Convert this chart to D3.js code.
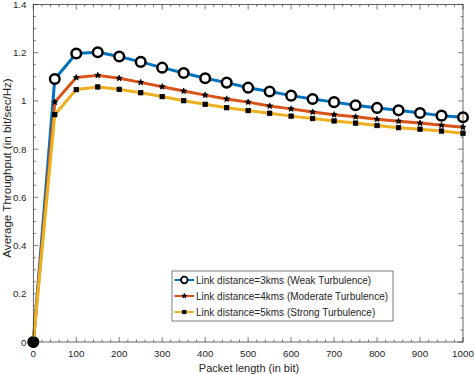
<!DOCTYPE html>
<html>
  <head>
    <meta charset="utf-8">
    <title>Average Throughput</title>
    <script src="https://cdnjs.cloudflare.com/ajax/libs/d3/7.8.5/d3.min.js"></script>
    <style>
      body { margin: 0; background: #fff; }
      text { font-family: "Liberation Sans", Arial, sans-serif; fill: #262626; }
    </style>
  </head>
  <body>
    <div id="chart"></div>
    <script type="text/javascript">
      // packet lengths (bit)
      var packetLength = [0, 50, 100, 150, 200, 250, 300, 350, 400, 450, 500,
                          550, 600, 650, 700, 750, 800, 850, 900, 950, 1000];

      var weak = [0, 1.091, 1.197, 1.202, 1.184, 1.162, 1.138, 1.116, 1.094, 1.076, 1.055,
                  1.039, 1.022, 1.008, 0.995, 0.982, 0.971, 0.961, 0.950, 0.939, 0.932];
      var moderate = [0, 0.995, 1.097, 1.106, 1.094, 1.077, 1.059, 1.041, 1.024, 1.008, 0.995,
                      0.979, 0.967, 0.954, 0.943, 0.934, 0.924, 0.916, 0.908, 0.899, 0.891];
      var strong = [0, 0.943, 1.047, 1.058, 1.048, 1.034, 1.018, 1.001, 0.986, 0.972, 0.960,
                    0.949, 0.937, 0.927, 0.917, 0.908, 0.898, 0.889, 0.883, 0.875, 0.866];

      var seriesNames = ["Link distance=3kms (Weak Turbulence)",
                         "Link distance=4kms (Moderate Turbulence)",
                         "Link distance=5kms (Strong Turbulence)"];
      var xTicks = [0, 100, 200, 300, 400, 500, 600, 700, 800, 900, 1000];
      var yTicks = [0, 0.2, 0.4, 0.6, 0.8, 1, 1.2, 1.4];

      var w = 474, h = 374;
      var pLeft = 33.3, pRight = 463, pTop = 4.5, pBottom = 342;

      var x = d3.scaleLinear().domain([0, 1000]).range([pLeft, pRight]);
      var y = d3.scaleLinear().domain([0, 1.4]).range([pBottom, pTop]);

      var svg = d3.select("#chart").append("svg")
        .attr("width", w)
        .attr("height", h);

      var axisColor = "#262626";

      // ticks (inward, all four sides)
      var xMinor = d3.range(0, 1001, 20);
      var yMinor = d3.range(0, 29).map(function(i) { return i * 0.05; });
      var ticks = svg.append("g").attr("stroke", axisColor).attr("stroke-width", 0.6);
      xMinor.forEach(function(v) {
        var len = (v % 100 === 0) ? 5 : 2.5;
        ticks.append("line").attr("x1", x(v)).attr("x2", x(v)).attr("y1", pBottom).attr("y2", pBottom - len);
        ticks.append("line").attr("x1", x(v)).attr("x2", x(v)).attr("y1", pTop).attr("y2", pTop + len);
      });
      yMinor.forEach(function(v, i) {
        var len = (i % 4 === 0) ? 5 : 2.5;
        ticks.append("line").attr("y1", y(v)).attr("y2", y(v)).attr("x1", pLeft).attr("x2", pLeft + len);
        ticks.append("line").attr("y1", y(v)).attr("y2", y(v)).attr("x1", pRight).attr("x2", pRight - len);
      });

      // tick labels
      svg.append("g").selectAll("text")
        .data(xTicks)
        .enter()
        .append("text")
        .attr("x", function(d) { return x(d); })
        .attr("y", 357)
        .attr("text-anchor", "middle")
        .attr("font-size", "9.8px")
        .text(function(d) { return d; });

      svg.append("g").selectAll("text")
        .data(yTicks)
        .enter()
        .append("text")
        .attr("x", 26.5)
        .attr("y", function(d) { return y(d) + 3.5; })
        .attr("text-anchor", "end")
        .attr("font-size", "9.8px")
        .text(function(d) { return d3.format("~g")(d); });

      // axis labels
      svg.append("text")
        .attr("x", 249)
        .attr("y", 371.5)
        .attr("text-anchor", "middle")
        .attr("font-size", "11px")
        .text("Packet length (in bit)");

      svg.append("text")
        .attr("transform", "translate(10.5,168) rotate(-90)")
        .attr("text-anchor", "middle")
        .attr("font-size", "11.6px")
        .text("Average Throughput (in bit/sec/Hz)");

      // series
      var series = [
        { name: seriesNames[0], values: weak, color: "#0072BD", marker: "circle" },
        { name: seriesNames[1], values: moderate, color: "#D95319", marker: "star" },
        { name: seriesNames[2], values: strong, color: "#EDB120", marker: "square" }
      ];

      var line = d3.line()
        .x(function(d) { return x(d[0]); })
        .y(function(d) { return y(d[1]); });

      function drawMarker(g, type, cx, cy, big) {
        if (type === "circle") {
          g.append("circle").attr("cx", cx).attr("cy", cy).attr("r", big ? 4.8 : 3.3)
            .attr("fill", "#fff").attr("stroke", "#000").attr("stroke-width", big ? 2.5 : 1.8);
        } else if (type === "star") {
          g.append("path")
            .attr("d", d3.symbol().type(d3.symbolStar).size(big ? 11 : 7)())
            .attr("transform", "translate(" + cx + "," + cy + ")")
            .attr("fill", "#000").attr("stroke", "#000").attr("stroke-width", 0.8);
          g.append("circle").attr("cx", cx).attr("cy", cy).attr("r", big ? 1.6 : 1.1).attr("fill", "#000");
        } else {
          var s = big ? 4.4 : 3.4;
          g.append("rect").attr("x", cx - s / 2).attr("y", cy - s / 2).attr("width", s).attr("height", s)
            .attr("fill", "#000").attr("stroke", "#000").attr("stroke-width", 0.8);
        }
      }

      series.forEach(function(s) {
        var pts = packetLength.map(function(p, i) { return [p, s.values[i]]; });
        var g = svg.append("g");
        g.append("path")
          .attr("d", line(pts))
          .attr("fill", "none")
          .attr("stroke", s.color)
          .attr("stroke-width", 3)
          .attr("stroke-linejoin", "round");
        pts.forEach(function(p) {
          drawMarker(g, s.marker, x(p[0]), y(p[1]), true);
        });
      });

      // origin blob (overlapping markers at 0,0)
      svg.append("circle").attr("cx", x(0)).attr("cy", y(0)).attr("r", 5.5).attr("fill", "#000");

      // box
      svg.append("rect")
        .attr("x", pLeft).attr("y", pTop)
        .attr("width", pRight - pLeft).attr("height", pBottom - pTop)
        .attr("fill", "none").attr("stroke", axisColor).attr("stroke-width", 0.7);

      // legend
      var lg = svg.append("g");
      lg.append("rect")
        .attr("x", 172).attr("y", 271).attr("width", 221).attr("height", 50)
        .attr("fill", "#fff").attr("stroke", "#262626").attr("stroke-width", 0.6);
      var rows = [280, 296, 312];
      series.forEach(function(s, i) {
        lg.append("line")
          .attr("x1", 174.5).attr("x2", 194).attr("y1", rows[i]).attr("y2", rows[i])
          .attr("stroke", s.color).attr("stroke-width", 2);
        drawMarker(lg, s.marker, 184.3, rows[i], false);
        lg.append("text")
          .attr("x", 196)
          .attr("y", rows[i] + 3.6)
          .attr("font-size", "10px")
          .text(s.name);
      });
    </script>
  </body>
</html>
